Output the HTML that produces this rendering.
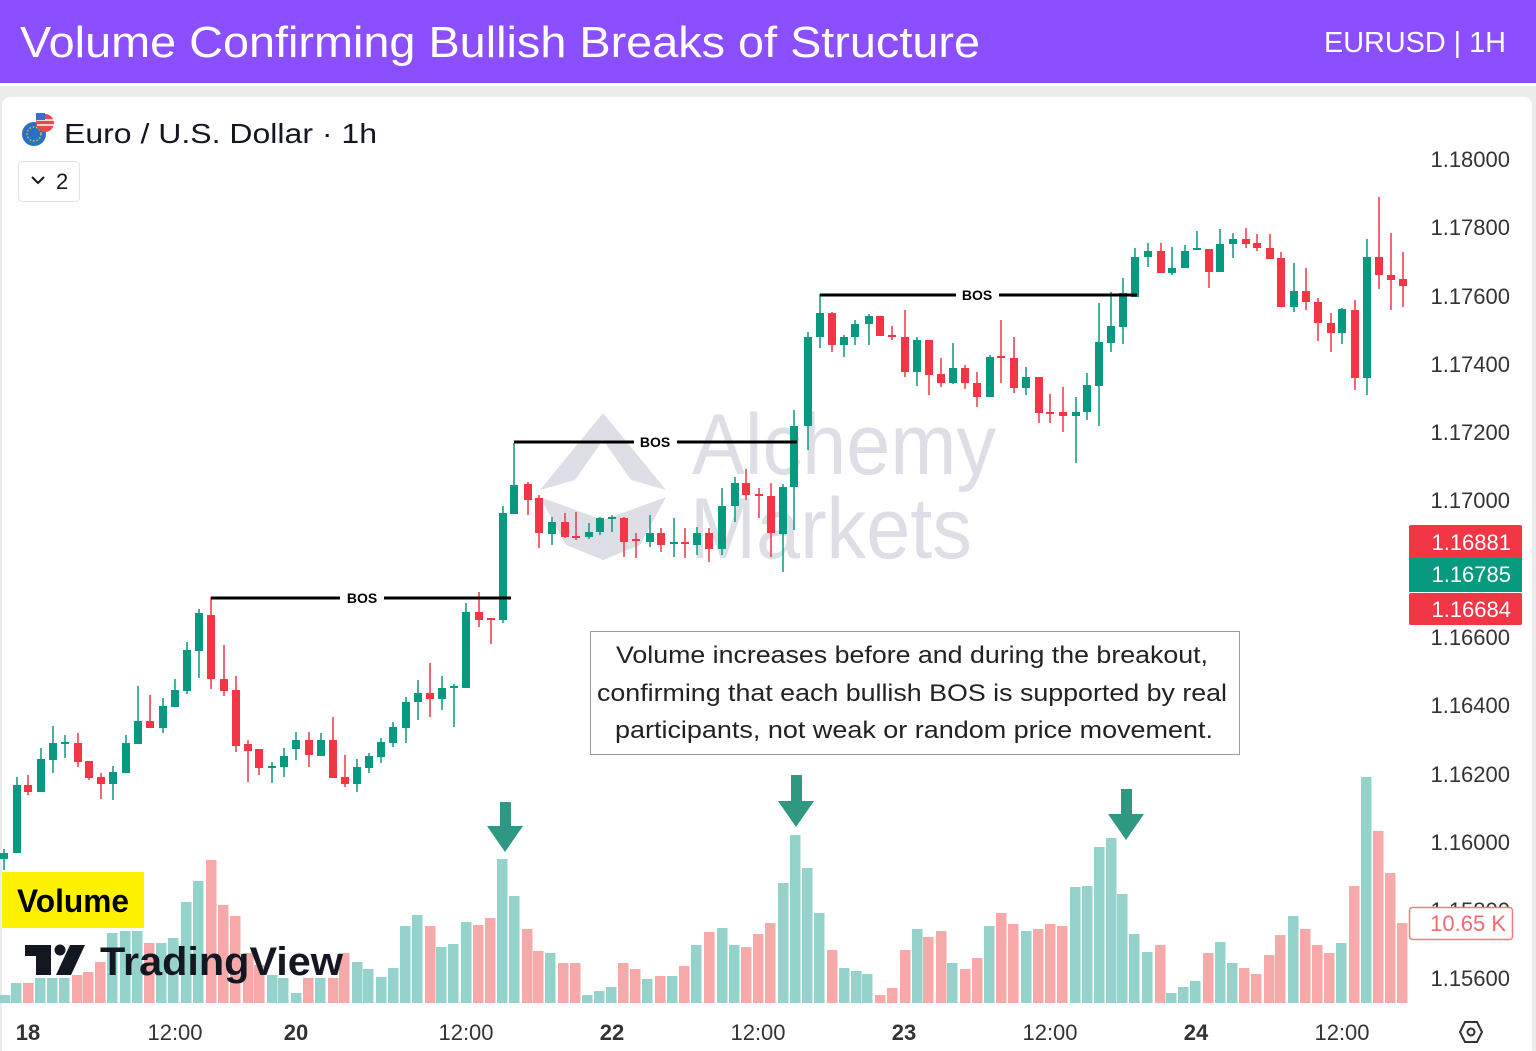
<!DOCTYPE html>
<html><head><meta charset="utf-8"><style>
html,body{margin:0;padding:0;background:#fff;}
svg{display:block;font-family:"Liberation Sans",sans-serif;}
</style></head><body>
<svg id="s" width="1536" height="1051" viewBox="0 0 1536 1051" xmlns="http://www.w3.org/2000/svg">
<rect x="0" y="0" width="1536" height="1051" fill="#ececec"/>
<rect x="0" y="0" width="1536" height="83" fill="#8c4fff"/>
<rect x="0" y="83" width="1536" height="3" fill="#ffffff"/>
<rect x="2" y="97" width="1530" height="960" rx="8" fill="#ffffff"/>
<text x="20" y="57" fill="#fff" font-size="44" textLength="960" lengthAdjust="spacingAndGlyphs">Volume Confirming Bullish Breaks of Structure</text>
<text x="1506" y="52" fill="#fff" font-size="29" text-anchor="end" textLength="182" lengthAdjust="spacingAndGlyphs">EURUSD | 1H</text>

<!-- watermark -->
<g fill="#dedee6">
<polygon points="603,413 540,490 575,480 603,440 631,480 666,490"/>
<polygon points="540,497 603,520 666,497 640,545 603,560 566,545"/>
<text x="692" y="474" font-size="86" textLength="304" lengthAdjust="spacingAndGlyphs">Alchemy</text>
<text x="690" y="558" font-size="86" textLength="282" lengthAdjust="spacingAndGlyphs">Markets</text>
</g>

<g id="vol"></g>
<g id="cnd"></g>

<!-- BOS lines -->
<g stroke="#000" stroke-width="3">
<line x1="211" y1="598" x2="340" y2="598"/><line x1="384" y1="598" x2="511" y2="598"/>
<line x1="514" y1="442" x2="634" y2="442"/><line x1="677" y1="442" x2="797" y2="442"/>
<line x1="820" y1="295" x2="956" y2="295"/><line x1="999" y1="295" x2="1137" y2="295"/>
</g>
<g font-size="14" font-weight="bold" fill="#000" text-anchor="middle">
<text x="362" y="603">BOS</text><text x="655" y="447">BOS</text><text x="977" y="300">BOS</text>
</g>

<!-- arrows -->
<g fill="#2e9882">
<rect x="500" y="802" width="11" height="26"/><polygon points="487,826 523,826 505,852"/>
<rect x="791" y="775" width="11" height="27"/><polygon points="778,801 814,801 796,827"/>
<rect x="1121" y="789" width="11" height="26"/><polygon points="1108,814 1144,814 1126,840"/>
</g>

<!-- annotation box -->
<rect x="590.5" y="631.5" width="649" height="123" fill="#fff" stroke="#9a9a9a" stroke-width="1"/>
<g font-size="24" fill="#222" text-anchor="middle">
<text x="912" y="663" textLength="592" lengthAdjust="spacingAndGlyphs">Volume increases before and during the breakout,</text>
<text x="912" y="701" textLength="630" lengthAdjust="spacingAndGlyphs">confirming that each bullish BOS is supported by real</text>
<text x="914" y="738" textLength="598" lengthAdjust="spacingAndGlyphs">participants, not weak or random price movement.</text>
</g>

<!-- legend -->
<circle cx="34" cy="134" r="12" fill="#2a6fc4"/>
<circle cx="34" cy="134" r="7" fill="none" stroke="#d6c94a" stroke-width="1.5" stroke-dasharray="1.5 2"/>
<circle cx="45" cy="123" r="9" fill="#e34a4a"/>
<path d="M37,120 h17 M37,125 h17" stroke="#fff" stroke-width="1.5"/>
<rect x="36" y="113" width="9" height="7" fill="#3a6fc9"/>
<text x="64" y="143" font-size="28" fill="#131722" textLength="313" lengthAdjust="spacingAndGlyphs">Euro / U.S. Dollar · 1h</text>
<rect x="18.5" y="161.5" width="61" height="40" rx="4" fill="#fff" stroke="#e0e3eb"/>
<path d="M32,177 l6,6 l6,-6" fill="none" stroke="#131722" stroke-width="2"/>
<text x="56" y="189" font-size="22" fill="#131722">2</text>

<!-- price axis -->
<g font-size="22" fill="#333" text-anchor="end">
<text x="1510" y="167">1.18000</text>
<text x="1510" y="235">1.17800</text>
<text x="1510" y="304">1.17600</text>
<text x="1510" y="372">1.17400</text>
<text x="1510" y="440">1.17200</text>
<text x="1510" y="508">1.17000</text>
<text x="1510" y="645">1.16600</text>
<text x="1510" y="713">1.16400</text>
<text x="1510" y="782">1.16200</text>
<text x="1510" y="850">1.16000</text>
<text x="1510" y="918">1.15800</text>
<text x="1510" y="986">1.15600</text>
</g>
<rect x="1409" y="525" width="113" height="34" rx="2" fill="#f23645"/>
<rect x="1409" y="558" width="113" height="34" fill="#089981"/>
<rect x="1409" y="593" width="113" height="32" rx="2" fill="#f23645"/>
<g font-size="22" fill="#fff" text-anchor="end">
<text x="1511" y="550">1.16881</text><text x="1511" y="582">1.16785</text><text x="1511" y="617">1.16684</text>
</g>
<rect x="1409.5" y="907.5" width="103" height="32" rx="3" fill="#fff" stroke="#f27a80" stroke-width="1.5"/>
<text x="1506" y="931" font-size="22" fill="#f26a72" text-anchor="end">10.65 K</text>

<!-- time axis -->
<g font-size="22" fill="#333" text-anchor="middle">
<text x="28" y="1040" font-weight="bold">18</text>
<text x="175" y="1040">12:00</text>
<text x="296" y="1040" font-weight="bold">20</text>
<text x="466" y="1040">12:00</text>
<text x="612" y="1040" font-weight="bold">22</text>
<text x="758" y="1040">12:00</text>
<text x="904" y="1040" font-weight="bold">23</text>
<text x="1050" y="1040">12:00</text>
<text x="1196" y="1040" font-weight="bold">24</text>
<text x="1342" y="1040">12:00</text>
</g>
<polygon points="1460,1032 1465,1022 1477,1022 1482,1032 1477,1042 1465,1042" fill="none" stroke="#333" stroke-width="2"/>
<circle cx="1471" cy="1032" r="3.5" fill="none" stroke="#333" stroke-width="2"/>

<!-- volume label & TV logo -->
<rect x="2" y="872" width="142" height="56" fill="#fff200"/>
<text x="73" y="912" font-size="32" font-weight="bold" fill="#000" text-anchor="middle" textLength="112" lengthAdjust="spacingAndGlyphs">Volume</text>
<g fill="#131722">
<rect x="25" y="945" width="26" height="11"/><rect x="36" y="945" width="15" height="30"/>
<circle cx="60" cy="950" r="5.5"/>
<polygon points="70,945 85,945 71,975 56,975"/>
</g>
<text x="100" y="975" font-size="40" font-weight="bold" fill="#131722" textLength="243" lengthAdjust="spacingAndGlyphs">TradingView</text>
</svg>
<script>
var C=[[4,853,859,849,870,1],[17,785,853,777,853,1],[28,785,792,775,795,0],[41,759,792,748,792,1],[53,743,760,726,773,1],[65,742,744,735,758,1],[78,743,762,733,767,0],[89,761,778,761,780,0],[101,777,784,773,799,0],[113,772,784,766,800,1],[126,743,773,735,773,1],[138,721,744,686,744,1],[150,721,728,695,728,0],[163,706,728,698,733,1],[175,690,707,679,707,1],[187,650,691,642,694,1],[199,613,651,609,678,1],[211,615,679,597,689,0],[224,679,691,645,696,0],[236,690,746,676,752,0],[248,744,751,740,782,0],[259,749,768,749,775,0],[272,766,768,762,783,1],[284,756,767,748,777,1],[296,740,749,732,760,1],[309,740,755,732,767,0],[321,740,756,733,756,1],[333,740,778,717,778,0],[345,777,784,755,787,0],[357,767,784,759,792,1],[369,756,768,753,773,1],[381,742,757,738,763,1],[393,727,743,722,747,1],[406,702,728,697,743,1],[418,693,702,680,720,1],[430,693,699,663,717,0],[442,688,699,676,710,1],[454,686,688,684,727,1],[466,612,688,603,688,1],[479,612,620,592,627,0],[491,618,620,618,644,0],[503,513,620,506,623,1],[514,485,514,443,514,1],[528,484,500,482,515,0],[539,498,533,495,548,0],[552,522,534,517,545,1],[565,522,537,513,538,0],[576,536,538,512,540,0],[589,532,537,523,539,1],[600,518,532,517,535,1],[612,517,519,515,532,1],[624,518,542,517,557,0],[636,539,541,533,558,0],[650,533,542,515,547,1],[661,533,545,528,552,0],[674,542,544,518,557,1],[685,542,544,528,558,0],[697,533,545,527,555,1],[709,533,549,528,562,0],[722,506,549,488,555,1],[735,483,506,477,522,1],[746,483,495,469,500,0],[759,494,496,488,518,0],[771,496,533,483,557,0],[783,487,534,484,572,1],[794,426,487,410,530,1],[808,337,426,332,450,1],[820,313,337,294,348,1],[832,313,345,312,352,0],[844,337,345,335,357,1],[855,324,337,320,345,1],[869,316,324,314,345,1],[880,316,336,316,336,0],[892,335,337,326,340,0],[905,337,372,310,377,0],[917,340,372,337,386,1],[929,340,375,340,395,0],[941,374,383,358,387,0],[953,368,383,343,384,1],[965,368,383,365,389,0],[977,383,397,372,407,0],[990,357,397,355,397,1],[1001,356,358,320,383,0],[1014,358,388,337,393,0],[1026,377,388,367,395,1],[1039,377,413,377,423,0],[1050,412,414,394,423,0],[1063,412,416,387,432,0],[1076,412,416,397,463,1],[1087,385,412,373,420,1],[1099,342,386,303,426,1],[1111,326,343,292,352,1],[1123,293,327,278,344,1],[1135,257,297,248,297,1],[1148,251,257,243,267,1],[1161,251,273,243,273,0],[1172,268,273,247,275,1],[1185,251,268,245,268,1],[1197,248,250,231,250,1],[1209,249,272,249,288,0],[1220,244,272,229,272,1],[1233,239,244,233,258,1],[1246,239,244,228,248,0],[1257,243,248,234,251,0],[1270,248,259,234,259,0],[1281,258,307,252,307,0],[1294,291,307,263,312,1],[1306,291,302,268,310,0],[1318,302,323,298,341,0],[1331,323,333,313,352,0],[1342,309,333,308,344,1],[1355,310,378,300,390,0],[1367,257,378,239,395,1],[1379,257,275,197,289,0],[1391,275,280,233,310,0],[1403,279,286,252,307,0]];
var V=[[5,995,1],[16,983,1],[28,983,0],[40,978,1],[52,978,1],[64,978,1],[77,975,0],[88,972,0],[100,962,0],[112,933,1],[125,931,1],[137,931,1],[149,943,0],[161,943,1],[173,938,1],[186,902,1],[198,881,1],[211,860,0],[223,905,0],[235,916,0],[248,953,0],[259,965,0],[272,975,1],[283,978,1],[296,993,1],[308,978,0],[320,978,1],[333,978,0],[344,953,0],[357,962,1],[368,969,1],[381,977,1],[393,968,1],[405,926,1],[417,915,1],[430,926,0],[441,947,1],[453,944,1],[466,922,1],[478,925,0],[490,918,0],[502,859,1],[514,896,1],[527,929,0],[538,951,0],[550,953,1],[563,963,0],[575,963,0],[587,995,1],[599,991,1],[611,987,1],[623,963,0],[635,969,0],[647,979,1],[660,976,0],[672,976,1],[684,966,0],[696,945,1],[709,932,0],[722,928,1],[734,945,1],[746,947,0],[758,934,0],[770,923,0],[783,883,1],[795,835,1],[807,868,1],[819,913,1],[832,950,0],[844,968,1],[856,971,1],[867,974,1],[880,995,0],[892,988,0],[905,950,0],[917,929,1],[928,937,0],[941,931,0],[952,963,1],[965,969,0],[977,958,0],[989,926,1],[1001,913,0],[1013,924,0],[1026,931,1],[1038,929,0],[1050,924,0],[1062,926,0],[1075,887,1],[1087,886,1],[1099,847,1],[1111,838,1],[1122,894,1],[1134,934,1],[1147,952,1],[1160,945,0],[1171,993,1],[1183,987,1],[1195,981,1],[1208,953,0],[1220,942,1],[1232,963,1],[1244,968,0],[1256,974,0],[1269,955,0],[1280,935,0],[1293,916,1],[1305,929,0],[1317,945,0],[1329,953,0],[1341,943,1],[1354,886,0],[1366,777,1],[1378,831,0],[1390,873,0],[1402,923,0]];
var NS="http://www.w3.org/2000/svg";
function el(g,t,a){var e=document.createElementNS(NS,t);for(var k in a)e.setAttribute(k,a[k]);g.appendChild(e);}
var vg=document.getElementById("vol");
V.forEach(function(v){el(vg,"rect",{x:v[0]-5,y:v[1],width:10.5,height:1003-v[1],fill:v[2]?"#94d3cb":"#f7a8a8"});});
var cg=document.getElementById("cnd");
C.forEach(function(c){var col=c[5]?"#089981":"#f23645";var t=c[1],b=c[2];if(b-t<2)b=t+2;
el(cg,"rect",{x:c[0]-0.75,y:c[3],width:1.5,height:c[4]-c[3],fill:col});
el(cg,"rect",{x:c[0]-4,y:t,width:8,height:b-t,fill:col});});
</script>
</body></html>
